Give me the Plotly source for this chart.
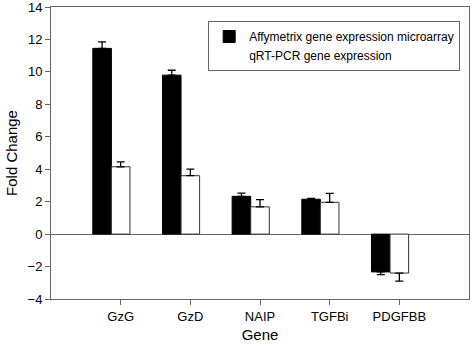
import plotly.graph_objects as go

genes = ["GzG", "GzD", "NAIP", "TGFBi", "PDGFBB"]
microarray = [11.45, 9.8, 2.33, 2.15, -2.33]
microarray_err = [0.4, 0.3, 0.2, 0.05, 0.17]
qpcr = [4.15, 3.6, 1.68, 1.96, -2.4]
qpcr_err = [0.3, 0.4, 0.45, 0.55, 0.5]

def split(vals, errs):
    plus = [e if v >= 0 else 0 for v, e in zip(vals, errs)]
    minus = [e if v < 0 else 0 for v, e in zip(vals, errs)]
    return plus, minus

mp, mm = split(microarray, microarray_err)
qp, qm = split(qpcr, qpcr_err)

fig = go.Figure()
fig.add_trace(go.Bar(
    x=genes, y=microarray, name="Affymetrix gene expression microarray",
    marker=dict(color="black", line=dict(color="black", width=1)),
    error_y=dict(type="data", symmetric=False, array=mp, arrayminus=mm,
                 color="black", thickness=1.3, width=4),
))
fig.add_trace(go.Bar(
    x=genes, y=qpcr, name="qRT-PCR gene expression", showlegend=False,
    marker=dict(color="white", line=dict(color="#333", width=1)),
    error_y=dict(type="data", symmetric=False, array=qp, arrayminus=qm,
                 color="black", thickness=1.3, width=4),
))
# legend-only entry (no visible swatch as in reference)
fig.add_trace(go.Bar(
    x=[None], y=[None], name="qRT-PCR gene expression",
    marker=dict(color="rgba(255,255,255,0)", line=dict(width=0)),
))

axis_color = "#666666"
fig.update_layout(
    width=474, height=355,
    margin=dict(l=51, r=5, t=7, b=56),
    paper_bgcolor="white", plot_bgcolor="white",
    barmode="group", bargap=0.2, bargroupgap=0,
    font=dict(family="Liberation Sans, Arial, sans-serif", size=12, color="black"),
    showlegend=True,
    legend=dict(x=0.376, y=0.952, xanchor="left", yanchor="top",
                bordercolor=axis_color, borderwidth=1, bgcolor="white",
                font=dict(size=12), tracegroupgap=0, itemwidth=30,
                traceorder="normal"),
    xaxis=dict(range=[-1, 5], showline=True, linecolor=axis_color, linewidth=1,
               mirror=True, ticks="outside", ticklen=5, tickcolor=axis_color,
               title=dict(text="Gene", font=dict(size=15), standoff=6),
               showgrid=False, tickfont=dict(size=13), automargin=False),
    yaxis=dict(range=[-4, 14], dtick=2, showline=True, linecolor=axis_color,
               linewidth=1, mirror=True, ticks="outside", ticklen=5,
               tickcolor=axis_color, showgrid=False, zeroline=True,
               zerolinecolor=axis_color, zerolinewidth=1,
               ticklabeloverflow="allow",
               title=dict(text="Fold Change", font=dict(size=15), standoff=6),
               tickfont=dict(size=13), automargin=False),
)

fig.write_html("out.html",
               config={"displayModeBar": False},
               post_script="document.body.style.margin='0';")
